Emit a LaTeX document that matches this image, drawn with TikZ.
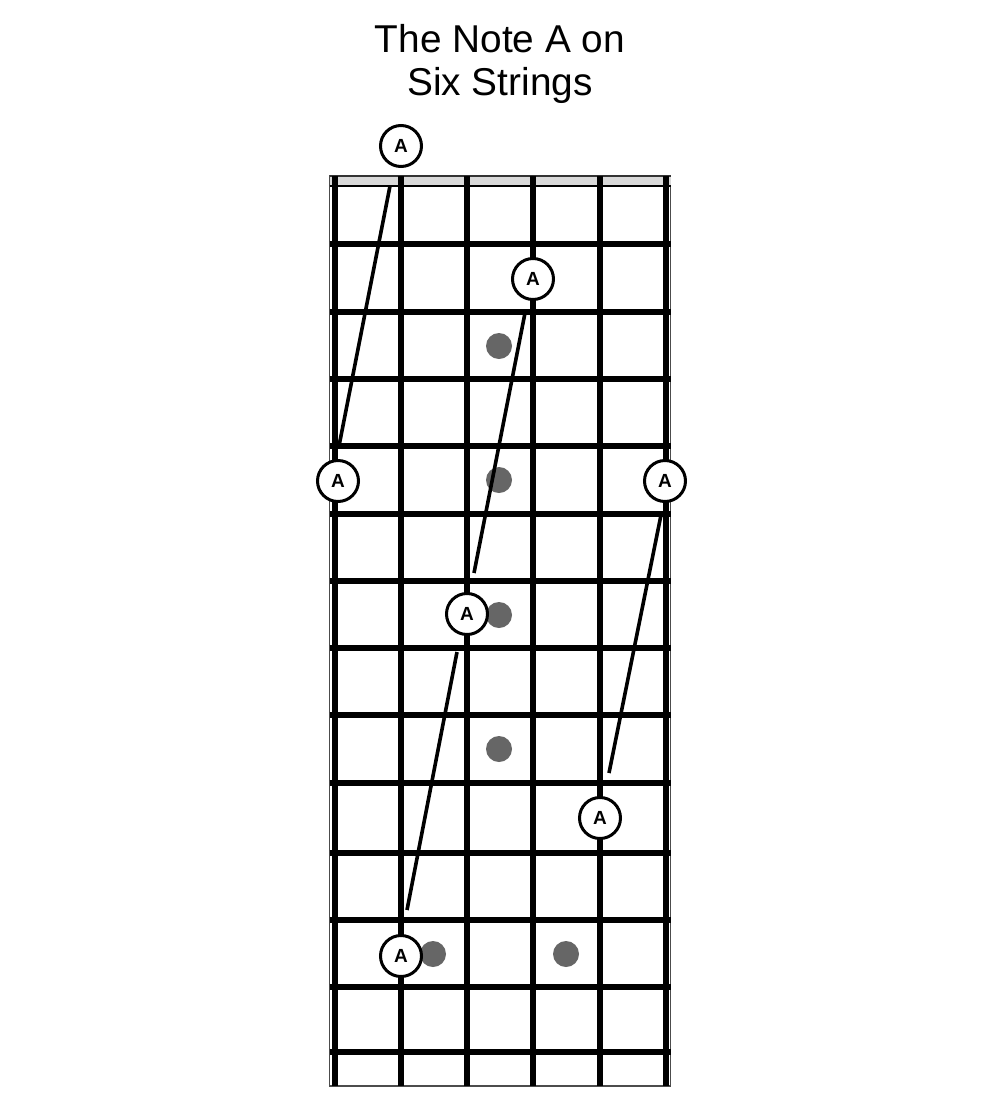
\documentclass[tikz,border=0pt]{standalone}
\usepackage{fontspec}
\setmainfont{Liberation Sans}
\begin{document}
\begin{tikzpicture}[x=1pt,y=-1pt,
  notecirc/.style={circle,draw=black,fill=white,line width=3pt,minimum size=41pt,inner sep=0pt,font=\fontsize{19}{19}\selectfont\bfseries},
  fretdot/.style={circle,fill=black!60,minimum size=26pt,inner sep=0pt},
  stringline/.style={line width=5.5pt,black},
  fretline/.style={line width=6pt,black},
  slide/.style={line width=3.6pt,black}]
\useasboundingbox (0,0) rectangle (1000,1120);
% title
\node[font=\fontsize{38.8}{43}\selectfont,align=center] (title) at (500,64) {The Note A on\\Six Strings};
% board outline
\draw[black!70,line width=1.2pt,fill=white] (329.5,176) rectangle (670.5,1086);
\fill[black!15] (329.5,176) rectangle (670.5,186);
\draw[black!80,line width=1.4pt] (329.5,176) -- (670.5,176);
\draw[black,line width=1.8pt] (329.5,186) -- (670.5,186);
% frets
\foreach \fy in {244,312,379,446,514,581,648,715,783,853,920,987,1052}{
  \draw[fretline] (329.5,\fy) -- (670.5,\fy);
}
% strings
\foreach \sx in {335,401,467,533,600,666}{
  \draw[stringline] (\sx,176) -- (\sx,1086);
}
% position dots
\node[fretdot] (d1) at (499,346) {};
\node[fretdot] (d2) at (499,480) {};
\node[fretdot] (d3) at (499,615) {};
\node[fretdot] (d4) at (499,749) {};
\node[fretdot] (d5) at (433,954) {};
\node[fretdot] (d6) at (566,954) {};
% slide lines
\coordinate (s1a) at (390,186); \coordinate (s1b) at (339,446);
\coordinate (s2a) at (525,313); \coordinate (s2b) at (474,573);
\coordinate (s3a) at (457,652); \coordinate (s3b) at (407,910);
\coordinate (s4a) at (661,515); \coordinate (s4b) at (609,773);
\draw[slide] (s1a) -- (s1b);
\draw[slide] (s2a) -- (s2b);
\draw[slide] (s3a) -- (s3b);
\draw[slide] (s4a) -- (s4b);
% notes
\node[notecirc] (a1) at (401,146) {A};
\node[notecirc] (a2) at (533,279) {A};
\node[notecirc] (a3) at (338,481) {A};
\node[notecirc] (a4) at (665,481) {A};
\node[notecirc] (a5) at (467,614) {A};
\node[notecirc] (a6) at (600,818) {A};
\node[notecirc] (a7) at (401,956) {A};
\end{tikzpicture}
\end{document}
